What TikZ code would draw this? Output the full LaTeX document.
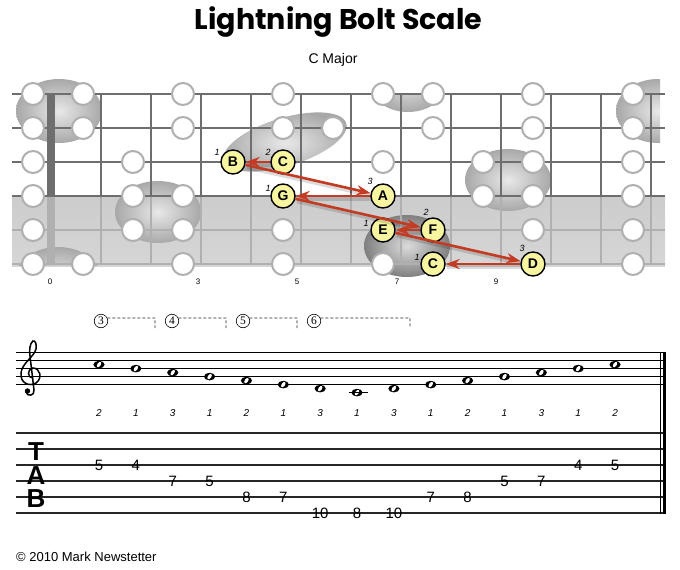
\documentclass[tikz,border=0pt]{standalone}
\usepackage{fontspec}
\setmainfont{Liberation Sans}
\newfontfamily\titlefont{Poppins}
\newfontfamily\numserif{Liberation Serif}
\usetikzlibrary{arrows.meta}
\definecolor{gridc}{HTML}{6E6E6E}
\definecolor{gridl}{HTML}{B0B0B0}
\definecolor{circb}{HTML}{AFAFAF}
\definecolor{notey}{HTML}{F8F5A0}
\definecolor{arrowred}{HTML}{C23B22}
\begin{document}
\begin{tikzpicture}[x=1pt,y=-1pt,
  blob/.style={inner color=black!9, outer color=black!34},
  darkblob/.style={inner color=black!14, outer color=black!50},
  str/.style={draw=gridc,line width=2.6pt},
  strlight/.style={draw=gridl,line width=2.6pt},
  fretd/.style={draw=gridc,line width=2pt},
  fretl/.style={draw=gridl,line width=2pt},
  opencirc/.style={fill=white,draw=circb,line width=2pt},
  notenode/.style={circle,draw=black,line width=1.4pt,fill=notey,minimum size=24pt,inner sep=0pt,font=\bfseries\fontsize{14}{14}\selectfont},
  fing/.style={font=\itshape\fontsize{9}{9}\selectfont,inner sep=0pt},
  fretnum/.style={font=\fontsize{8}{8}\selectfont,inner sep=0pt},
  redarrow/.style={draw=arrowred,line width=2.6pt,-{Stealth[length=14pt,width=10pt]}},
  arrowshadow/.style={draw=black,opacity=0.14,line width=4pt,transform canvas={shift={(1.5pt,-2.5pt)}}},
  staffline/.style={draw=black,line width=1pt},
  tabline/.style={draw=black!85,line width=1.3pt},
  bracket/.style={draw=black!85,line width=0.9pt,dash pattern=on 3pt off 2pt},
  strnum/.style={circle,draw=black,line width=0.6pt,inner sep=0pt,minimum size=13.5pt,font=\numserif\fontsize{11.5}{11.5}\selectfont},
  fingn/.style={font=\itshape\fontsize{10}{10}\selectfont,inner sep=0pt},
  tabn/.style={font=\fontsize{15}{15}\selectfont,inner sep=0pt},
  tabletter/.style={font=\bfseries\fontsize{26}{26}\selectfont,inner sep=0pt,text height=18.5pt,text depth=0pt},
]
\useasboundingbox (0,0) rectangle (680,570);

% ---------- titles ----------
\node[anchor=base,inner sep=0pt,font=\titlefont\bfseries\fontsize{28.5}{28.5}\selectfont] (title) at (338.5,29) {Lightning Bolt Scale};
\node[anchor=base,inner sep=0pt,font=\fontsize{14}{14}\selectfont] (subtitle) at (333,63) {C Major};

% ---------- fretboard band ----------
\shade[top color=black!20, middle color=black!6, bottom color=black!16] (12,197) rectangle (665,266);

% ---------- blobs ----------
\shade[blob] (59,111) ellipse [x radius=43, y radius=32];
\begin{scope}
  \clip (12,200) rectangle (665,265);
  \shade[blob] (58,279) ellipse [x radius=43, y radius=32];
\end{scope}
\shade[blob] (158,212) ellipse [x radius=43, y radius=31];
\shade[blob, rotate around={17:(285,142)}] (285,142) ellipse [x radius=64, y radius=24];
\shade[darkblob] (407,246) ellipse [x radius=43, y radius=31];
\begin{scope}
  \clip (300,94) rectangle (500,140);
  \shade[blob] (408,80) ellipse [x radius=40, y radius=32];
\end{scope}
\shade[blob] (508,180) ellipse [x radius=43, y radius=31];
\begin{scope}
  \clip (600,70) rectangle (660,150);
  \shade[blob] (658,111) ellipse [x radius=42, y radius=32];
\end{scope}

% ---------- grid ----------
\foreach \yy in {94,128,162,196} \draw[str] (12,\yy) -- (665,\yy);
\foreach \yy in {230,264} \draw[strlight] (12,\yy) -- (665,\yy);
\foreach \k in {1,...,12} {
  \draw[fretd] (51+50*\k,94) -- (51+50*\k,197);
  \draw[fretl] (51+50*\k,197) -- (51+50*\k,264);
}
\fill[gridc] (47,93) rectangle (55,197);
\fill[gridl] (47,197) rectangle (55,265);

% ---------- open circles ----------
\foreach \x in {33,83,183,283,383,433,533,633} \draw[opencirc] (\x,94) circle (11);
\foreach \x in {33,83,183,283,333,433,533,633} \draw[opencirc] (\x,128) circle (11);
\foreach \x in {33,133,383,483,533,633} \draw[opencirc] (\x,162) circle (11);
\foreach \x in {33,133,183,483,533,633} \draw[opencirc] (\x,196) circle (11);
\foreach \x in {33,133,183,283,533,633} \draw[opencirc] (\x,230) circle (11);
\foreach \x in {33,83,183,283,383,633} \draw[opencirc] (\x,264) circle (11);

% ---------- fret numbers ----------
\node[fretnum] (fn0) at (50,282) {0};
\node[fretnum] (fn3) at (198,282) {3};
\node[fretnum] (fn5) at (297,282) {5};
\node[fretnum] (fn7) at (397,282) {7};
\node[fretnum] (fn9) at (496,282) {9};

% ---------- scale notes ----------
\node[notenode] (nB) at (233,162) {B};
\node[notenode] (nCa) at (283,162) {C};
\node[notenode] (nG) at (283,196) {G};
\node[notenode] (nA) at (383,196) {A};
\node[notenode] (nE) at (383,230) {E};
\node[notenode] (nF) at (433,230) {F};
\node[notenode] (nCb) at (433,264) {C};
\node[notenode] (nD) at (533,264) {D};

\node[fing] (fB) at (217,152) {1};
\node[fing] (fCa) at (268,152) {2};
\node[fing] (fG) at (268,188) {1};
\node[fing] (fA) at (370,181) {3};
\node[fing] (fE) at (366,223) {1};
\node[fing] (fF) at (426,212) {2};
\node[fing] (fCb) at (417,257) {1};
\node[fing] (fD) at (522,248) {3};

% ---------- arrows ----------
\foreach \a/\b in {nCa/nB,nB/nA,nA/nG,nG/nF,nF/nE,nE/nD,nD/nCb}
  \draw[arrowshadow] (\a) -- (\b);
\foreach \a/\b in {nCa/nB,nB/nA,nA/nG,nG/nF,nF/nE,nE/nD,nD/nCb}
  \draw[redarrow] (\a) -- (\b);

% ---------- string brackets ----------
\node[strnum] (s3) at (101,321) {3};
\node[strnum] (s4) at (172,321) {4};
\node[strnum] (s5) at (243,321) {5};
\node[strnum] (s6) at (314,321) {6};
\coordinate (e3) at (155,318);
\coordinate (e4) at (226,318);
\coordinate (e5) at (297,318);
\coordinate (e6) at (410,318);
\draw[bracket] (s3.25) -- (e3) -- ++(0,10);
\draw[bracket] (s4.25) -- (e4) -- ++(0,10);
\draw[bracket] (s5.25) -- (e5) -- ++(0,10);
\draw[bracket] (s6.25) -- (e6) -- ++(0,10);

% ---------- staff ----------
\foreach \yy in {352,360,368,376,384} \draw[staffline] (16,\yy) -- (663,\yy);
\foreach \yy in {433,449,465,481,497,513} \draw[tabline] (16,\yy) -- (663,\yy);
\draw[line width=0.9pt] (660.5,352) -- (660.5,513.6);
\draw[line width=3pt] (664.5,351.5) -- (664.5,514.2);

% treble clef
\draw[line width=1.5pt, line cap=round]
  (33,378) .. controls (27,378) and (27,369) .. (33,368)
  .. controls (40,368) and (43,378) .. (36,383)
  .. controls (29,387) and (20,383) .. (21,373)
  .. controls (22,363) and (34,357) .. (36,349)
  .. controls (37,344) and (35,340) .. (33,341)
  .. controls (30,343) and (29,350) .. (30,356)
  -- (34,390)
  .. controls (35,396) and (27,397) .. (26,392);
\fill (27.5,391) circle (2.7);

% whole notes
\foreach \i/\yy in {0/364,1/368,2/372,3/376,4/380,5/384,6/388,7/392,8/388,9/384,10/380,11/376,12/372,13/368,14/364} {
  \pgfmathsetmacro\xx{99+36.86*\i}
  \fill (\xx,\yy+0.6) ellipse [x radius=5.6, y radius=3.8];
  \fill[white, rotate around={-35:(\xx,\yy+0.6)}] (\xx,\yy+0.6) ellipse [x radius=1.7, y radius=3];
}
\draw[line width=1pt] (349,392) -- (368,392);

% fingering under the staff
\foreach \i/\f in {0/2,1/1,2/3,3/1,4/2,5/1,6/3,7/1,8/3,9/1,10/2,11/1,12/3,13/1,14/2} {
  \node[fingn] (fg\i) at (99+36.86*\i,413) {\f};
}

% TAB letters
\node[tabletter,anchor=base] (tT) at (36,460.5) {T};
\node[tabletter,anchor=base] (tA) at (36,484) {A};
\node[tabletter,anchor=base] (tB) at (36,507.5) {B};

% tab numbers
\foreach \i/\n/\yy in {0/5/465,1/4/465,2/7/481,3/5/481,4/8/497,5/7/497,6/10/513,7/8/513,8/10/513,9/7/497,10/8/497,11/5/481,12/7/481,13/4/465,14/5/465} {
  \node[tabn] (tn\i) at (99+36.86*\i,\yy+0.5) {\n};
}

% copyright
\node[anchor=base west,inner sep=0pt,font=\fontsize{13}{13}\selectfont] (copy) at (16,561) {© 2010 Mark Newstetter};
\end{tikzpicture}
\end{document}
